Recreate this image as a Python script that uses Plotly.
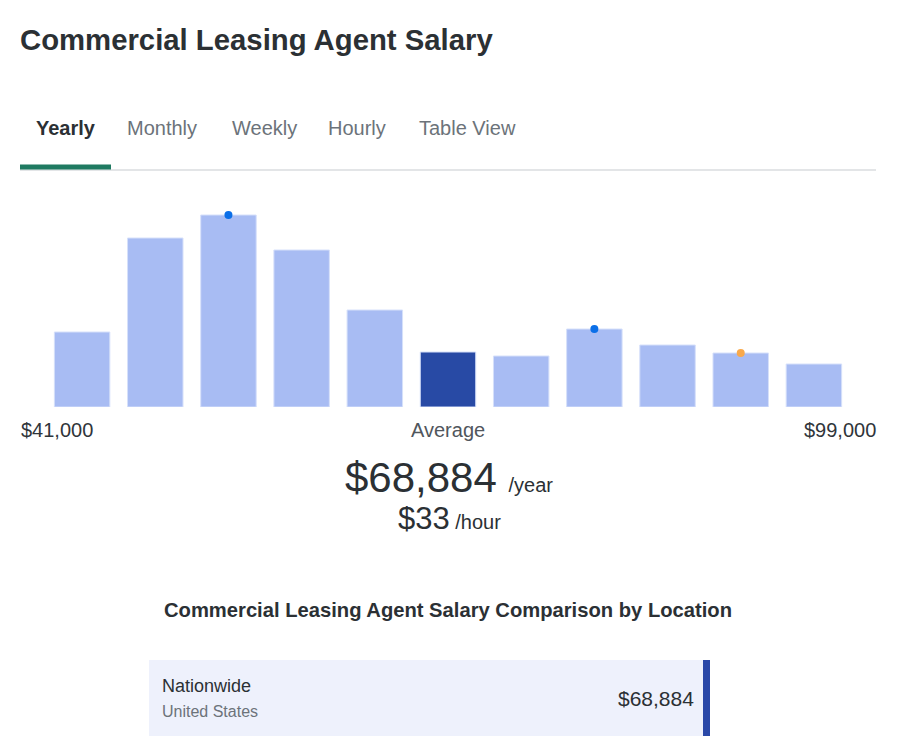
import plotly.graph_objects as go

# ---- data ----
bins = list(range(11))
counts = [75, 169, 192, 157, 97, 55, 51, 78, 62, 54, 43]
avg_bin = 5
marker_bins = [2, 7, 9]
marker_colors = ["#0B6FE8", "#0B6FE8", "#F9A94B"]
min_label = "$41,000"
max_label = "$99,000"
avg_label = "Average"
avg_year = "$68,884"
avg_hour = "$33"
tabs = ["Yearly", "Monthly", "Weekly", "Hourly", "Table View"]
tab_x = [36, 127, 232, 328, 419]

W, H = 900, 751
OFF = 8  # page body margin
FONT = "Liberation Sans, Arial, Helvetica, sans-serif"
DARK = "#2B3034"
GRAY = "#6C737A"


def px(x):
    return (x - OFF) / W


def py(y):
    return 1 - (y - OFF) / H


bar_colors = ["#284AA5" if b == avg_bin else "#A8BCF3" for b in bins]

fig = go.Figure()
fig.add_trace(go.Bar(
    x=bins, y=counts,
    marker=dict(color=bar_colors, line=dict(color="#D6E0FA", width=1)),
    width=0.758, hoverinfo="skip", showlegend=False,
))
fig.add_trace(go.Scatter(
    x=marker_bins, y=[counts[b] for b in marker_bins], mode="markers",
    marker=dict(color=marker_colors, size=8, line=dict(width=0)),
    hoverinfo="skip", showlegend=False, cliponaxis=False,
))

fig.update_layout(
    width=W, height=H,
    margin=dict(l=0, r=0, t=0, b=0),
    paper_bgcolor="white", plot_bgcolor="white",
    font=dict(family=FONT, color=DARK),
    xaxis=dict(range=[-0.5, 10.5], domain=[px(45.5), px(850.5)],
               visible=False, fixedrange=True),
    yaxis=dict(range=[0, 200], domain=[py(407), py(207)],
               visible=False, fixedrange=True),
    showlegend=False,
)

ann = []


def text(x, y, s, size, color=DARK, xanchor="left", yanchor="middle", bold=False):
    if bold:
        s = "<b>" + s + "</b>"
    ann.append(dict(x=px(x), y=py(y), xref="paper", yref="paper", text=s,
                    showarrow=False, xanchor=xanchor, yanchor=yanchor,
                    font=dict(size=size, color=color, family=FONT)))


text(18, 40, "Commercial Leasing Agent Salary", 29.3, DARK, bold=True)
for i, (t, x) in enumerate(zip(tabs, tab_x)):
    text(x - 2, 128, t, 20, DARK if i == 0 else GRAY, bold=(i == 0))

text(19, 430, min_label, 20, "#30353A")
text(448, 430, avg_label, 20, "#50565C", xanchor="center")
text(878, 430, max_label, 20, "#30353A", xanchor="right")

text(449, 477, avg_year + " <span style='font-size:20px'>/year</span>", 42, DARK, xanchor="center")
text(449, 519, avg_hour + "<span style='font-size:20px'> /hour</span>", 31, DARK, xanchor="center")

text(448, 610, "Commercial Leasing Agent Salary Comparison by Location", 20.2, DARK,
     xanchor="center", bold=True)

text(160, 686, "Nationwide", 18, DARK)
text(160, 711, "United States", 16, GRAY)
text(696, 698, avg_year, 21, DARK, xanchor="right")

fig.update_layout(annotations=ann)

shapes = [
    # tab baseline and active underline
    dict(type="line", xref="paper", yref="paper", x0=px(20), x1=px(876),
         y0=py(170), y1=py(170), line=dict(color="#DADCDF", width=1.5)),
    dict(type="rect", xref="paper", yref="paper", x0=px(20), x1=px(111),
         y0=py(169.5), y1=py(164.5), fillcolor="#1F7A61", line=dict(width=0)),
    # comparison box
    dict(type="rect", xref="paper", yref="paper", x0=px(149), x1=px(704),
         y0=py(736), y1=py(660), fillcolor="#EEF1FC", line=dict(width=0), layer="below"),
    dict(type="rect", xref="paper", yref="paper", x0=px(703), x1=px(710),
         y0=py(736), y1=py(660), fillcolor="#2A48A8", line=dict(width=0)),
]
fig.update_layout(shapes=shapes)

fig.write_html("out.html")
